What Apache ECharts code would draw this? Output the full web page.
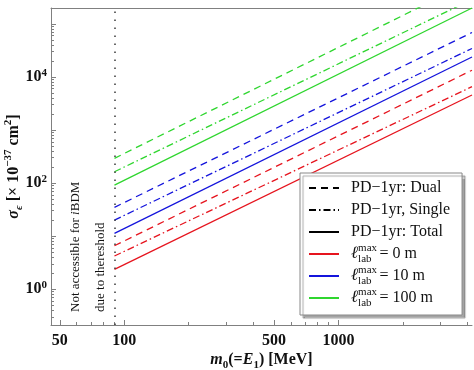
<!DOCTYPE html>
<html><head><meta charset="utf-8">
<script src="https://cdn.jsdelivr.net/npm/echarts@6/dist/echarts.min.js"></script>
<style>html,body{margin:0;padding:0;background:#fff}#c{width:474px;height:370px}</style>
</head><body><div id="c"></div>
<script>
// ---- data ----
const m0 = [90, 4200];                 // m0 (MeV) where lines are read
const red_total   = [2.36, 4570];
const red_single  = [4.2, 6560];
const red_dual    = [6.56, 13400];
const blue_total  = [11.2, 23800];
const blue_single = [20, 34500];
const blue_dual   = [34.8, 69000];
const green_total = [91.6, 200000];
const green_single= [163, 290000];
const green_dual  = [292, 640000];
const threshold = 90;
const xLabelTicks = [50, 100, 500, 1000];
const xMinorTicks = [60, 70, 80, 90, 200, 300, 400, 600, 700, 800, 900, 2000, 3000, 4000];
const yLabelTicks = [1, 100, 10000];
const yMajorTicks = [1, 10, 100, 1000, 10000, 100000];
const yMinorTicks = [0.3,0.4,0.5,0.6,0.7,0.8,0.9, 2,3,4,5,6,7,8,9, 20,30,40,50,60,70,80,90,
  200,300,400,500,600,700,800,900, 2000,3000,4000,5000,6000,7000,8000,9000,
  20000,30000,40000,50000,60000,70000,80000,90000];

const FF = '"Liberation Serif","Times New Roman",serif';
const RED = '#e6141e', BLUE = '#1414dc', GREEN = '#2fd62f';
const DASH = [7, 5], DASHDOT = [7, 3, 1.5, 3];
const AX = '#808080';

function mk(name, vals, color, type, extra) {
  return Object.assign({
    name, type: 'line', xAxisIndex: 0, yAxisIndex: 0,
    data: m0.map((m, i) => [m, vals[i]]),
    symbol: 'none', showSymbol: false, silent: true, clip: true,
    lineStyle: { color, width: 1.3, type }, itemStyle: { color }
  }, extra || {});
}

const series = [
  mk('rd', red_dual, RED, DASH), mk('rs', red_single, RED, DASHDOT),
  mk('l0', red_total, RED, 'solid', {
    markLine: { silent: true, symbol: 'none', label: { show: false },
      lineStyle: { color: '#444', type: [1.6, 6.4], width: 1.6 },
      data: [{ xAxis: threshold }] }
  }),
  mk('bd', blue_dual, BLUE, DASH), mk('bs', blue_single, BLUE, DASHDOT), mk('l10', blue_total, BLUE, 'solid'),
  mk('gd', green_dual, GREEN, DASH), mk('gs', green_single, GREEN, DASHDOT), mk('l100', green_total, GREEN, 'solid'),
  { name: 'dual', type: 'line', data: [], symbol: 'none', lineStyle: { color: '#000', width: 1.3, type: DASH }, itemStyle: { color: '#000' } },
  { name: 'single', type: 'line', data: [], symbol: 'none', lineStyle: { color: '#000', width: 1.3, type: DASHDOT }, itemStyle: { color: '#000' } },
  { name: 'total', type: 'line', data: [], symbol: 'none', lineStyle: { color: '#000', width: 1.3, type: 'solid' }, itemStyle: { color: '#000' } }
];

const legendText = {
  dual: 'PD\u22121yr: Dual',
  single: 'PD\u22121yr, Single',
  total: 'PD\u22121yr: Total',
  l0: '{l|\u2113}{sup|max}{sub|lab}{n|  = 0 m}',
  l10: '{l|\u2113}{sup|max}{sub|lab}{n|  = 10 m}',
  l100: '{l|\u2113}{sup|max}{sub|lab}{n|  = 100 m}'
};

const supSub = {
  b: { fontFamily: FF, fontWeight: 'bold', fontSize: 16, lineHeight: 22, color: '#111' },
  i: { fontFamily: FF, fontWeight: 'bold', fontStyle: 'italic', fontSize: 16, lineHeight: 22, color: '#111' },
  sup: { fontFamily: FF, fontWeight: 'bold', fontSize: 11, lineHeight: 12, verticalAlign: 'top', color: '#111' },
  sub: { fontFamily: FF, fontWeight: 'bold', fontSize: 11, lineHeight: 12, verticalAlign: 'bottom', color: '#111' },
  subi: { fontFamily: FF, fontWeight: 'bold', fontStyle: 'italic', fontSize: 11, lineHeight: 12, verticalAlign: 'bottom', color: '#111' }
};

const chart = echarts.init(document.getElementById('c'), null, { renderer: 'canvas' });
const xRange = { min: 45.5, max: 4200 };
const yRange = { min: 0.21, max: 200000 };
chart.setOption({
  animation: false,
  backgroundColor: '#fff',
  grid: { left: 51, right: 2, top: 8, bottom: 45, containLabel: false, outerBoundsMode: 'none' },
  xAxis: [
    { type: 'log', ...xRange, position: 'bottom',
      axisLine: { show: true, lineStyle: { color: AX, width: 1 } },
      axisTick: { show: true, inside: true, length: 5, customValues: xLabelTicks, lineStyle: { color: AX } },
      axisLabel: { customValues: xLabelTicks, formatter: v => String(v), fontFamily: FF, fontWeight: 'bold', fontSize: 16, color: '#111', margin: 8 },
      splitLine: { show: false }, minorTick: { show: false },
      name: '{i|m}{sub|0}{b|(=}{i|E}{sub|1}{b|) [MeV]}', nameLocation: 'middle', nameGap: 24, nameMoveOverlap: false,
      nameTextStyle: { rich: supSub } },
    { type: 'log', ...xRange, position: 'bottom',
      axisLine: { show: false },
      axisTick: { show: true, inside: true, length: 3, customValues: xMinorTicks, lineStyle: { color: AX } },
      axisLabel: { show: false }, splitLine: { show: false } },
    { type: 'log', ...xRange, position: 'top',
      axisLine: { show: true, lineStyle: { color: AX, width: 1 } },
      axisTick: { show: false }, axisLabel: { show: false }, splitLine: { show: false } }
  ],
  yAxis: [
    { type: 'log', ...yRange, position: 'left',
      axisLine: { show: true, lineStyle: { color: AX, width: 1 } },
      axisTick: { show: true, inside: true, length: 5, customValues: yMajorTicks, lineStyle: { color: AX } },
      axisLabel: { customValues: yLabelTicks, margin: 4,
        formatter: v => '{b|10}{sup|' + Math.round(Math.log10(v)) + '}',
        rich: { b: { fontFamily: FF, fontWeight: 'bold', fontSize: 16, lineHeight: 18, color: '#111' },
                sup: { fontFamily: FF, fontWeight: 'bold', fontSize: 11, lineHeight: 11, verticalAlign: 'top', color: '#111' } } },
      splitLine: { show: false },
      name: '{i|\u03c3}{subi|\u03f5}{b| [\u00d7 10}{sup|\u221237}{b| cm}{sup|2}{b|]}', nameLocation: 'middle', nameGap: 26, nameRotate: 90,
      nameMoveOverlap: false,
      nameTextStyle: { rich: supSub } },
    { type: 'log', ...yRange, position: 'left',
      axisLine: { show: false },
      axisTick: { show: true, inside: true, length: 3, customValues: yMinorTicks, lineStyle: { color: AX } },
      axisLabel: { show: false }, splitLine: { show: false } }
  ],
  legend: {
    show: true, orient: 'vertical', left: 300, top: 173, selectedMode: false,
    data: ['dual', 'single', 'total', 'l0', 'l10', 'l100'],
    formatter: n => legendText[n],
    itemWidth: 30, itemHeight: 14, itemGap: 0,
    padding: [4, 12, 6, 8],
    itemStyle: { color: 'transparent', borderColor: 'transparent', borderWidth: 0, opacity: 0 },
    backgroundColor: '#fff', borderColor: '#888', borderWidth: 1,
    shadowColor: 'rgba(0,0,0,0.35)', shadowBlur: 1, shadowOffsetX: 3, shadowOffsetY: 3,
    textStyle: { fontFamily: FF, fontSize: 16, color: '#111', lineHeight: 22, padding: [0, 0, 0, 7],
      rich: {
        n: { fontFamily: FF, fontSize: 16, lineHeight: 22, color: '#111' },
        l: { fontFamily: FF, fontStyle: 'italic', fontSize: 17, lineHeight: 22, color: '#111' },
        sup: { fontFamily: FF, fontSize: 11, lineHeight: 11, verticalAlign: 'top', color: '#111', width: 0 },
        sub: { fontFamily: FF, fontSize: 11, lineHeight: 11, verticalAlign: 'bottom', color: '#111' }
      } }
  },
  graphic: [
    { type: 'text', x: 76, y: 312, rotation: Math.PI / 2, silent: true,
      style: { text: 'Not accessible for {it|i}BDM', fontFamily: FF, fontSize: 13, fill: '#111', align: 'left', verticalAlign: 'middle',
        rich: { it: { fontFamily: FF, fontSize: 13, fontStyle: 'italic', fill: '#111' } } } },
    { type: 'text', x: 101, y: 312, rotation: Math.PI / 2, silent: true,
      style: { text: 'due to thereshold', fontFamily: FF, fontSize: 13, fill: '#111', align: 'left', verticalAlign: 'middle' } }
  ],
  series
});
</script></body></html>
